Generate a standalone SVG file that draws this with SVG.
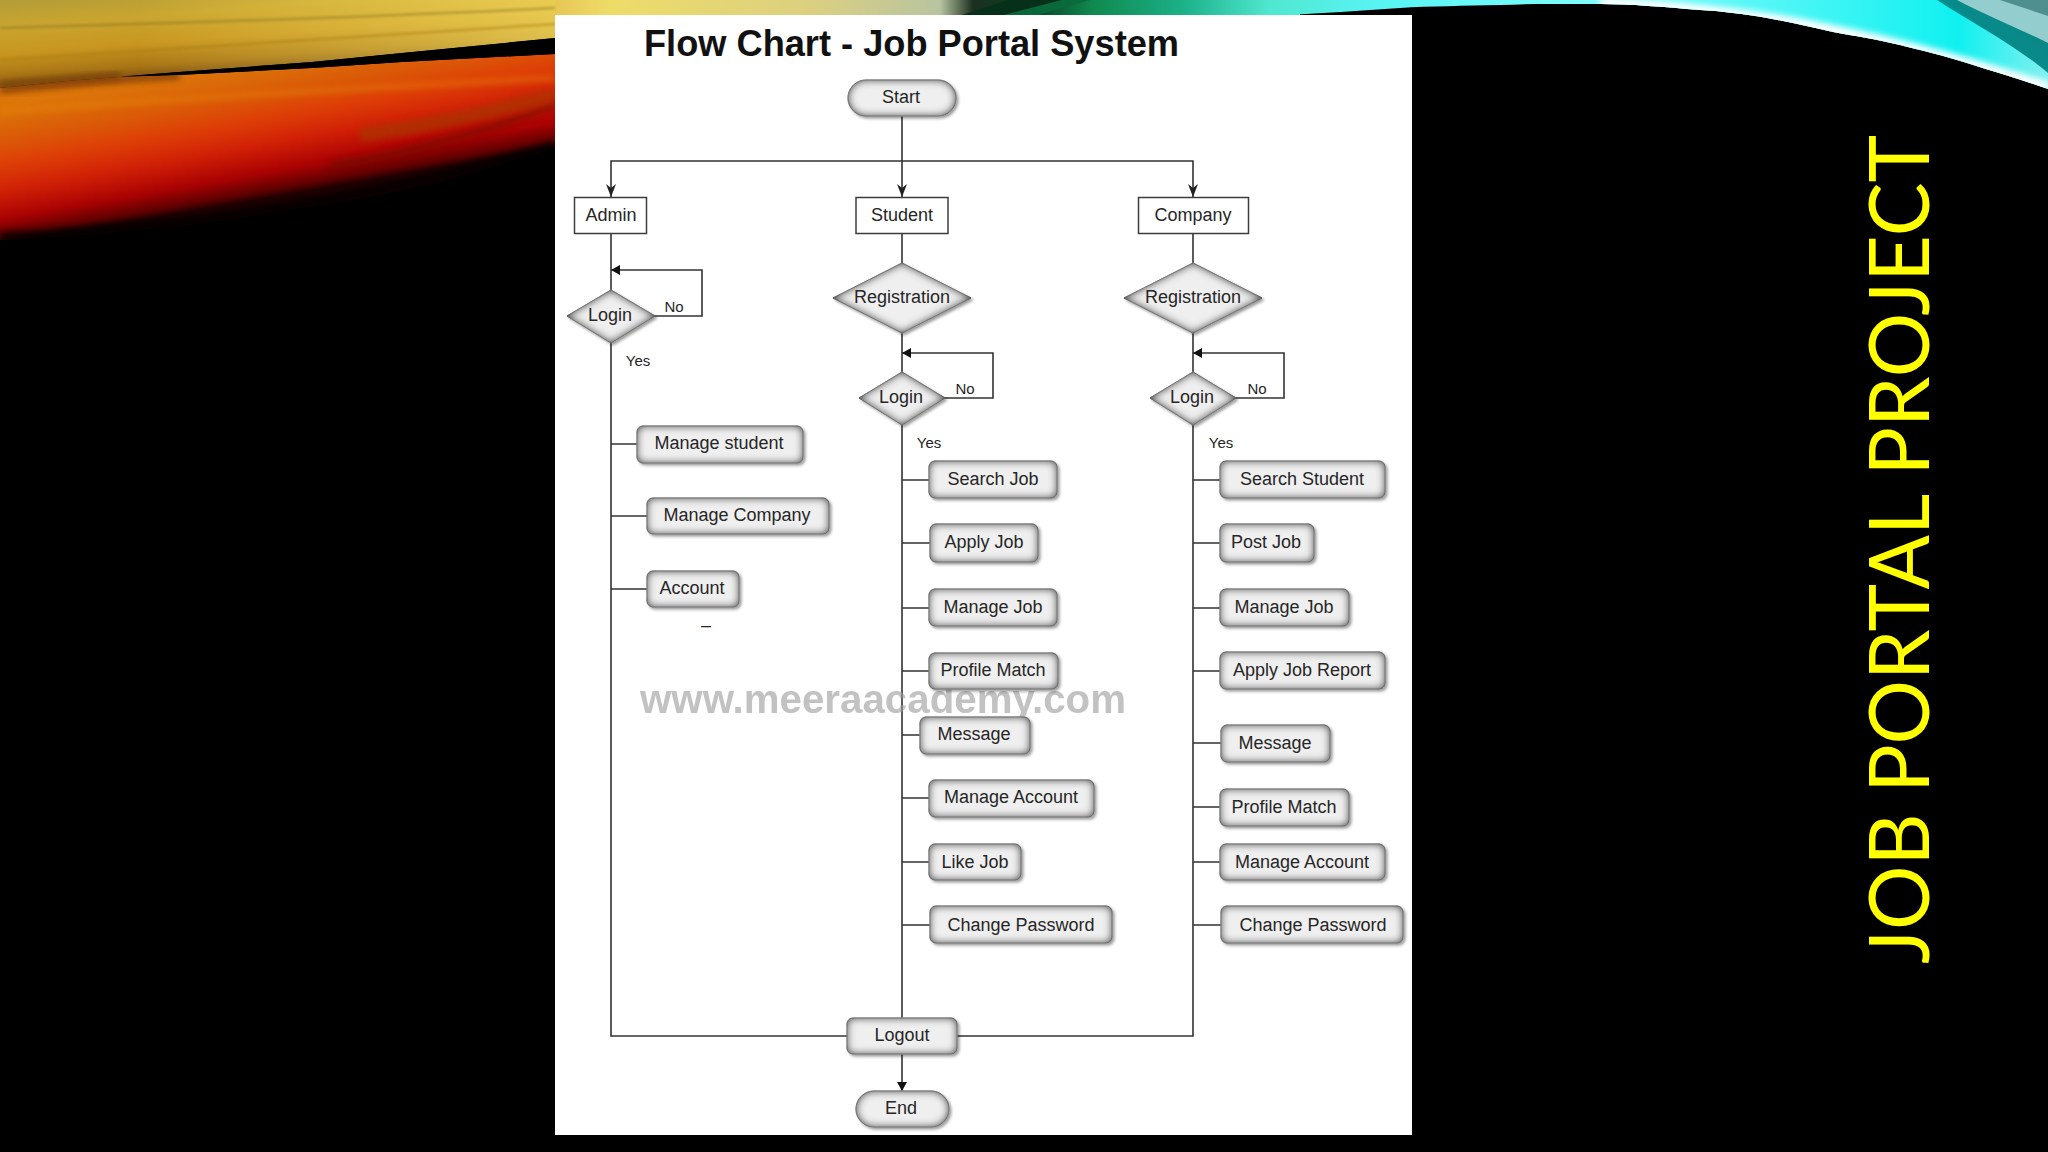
<svg xmlns="http://www.w3.org/2000/svg" width="2048" height="1152" viewBox="0 0 2048 1152">
<style>
text{font-family:"Liberation Sans",Arial,sans-serif;fill:#262626}
.l{font-size:18px;text-anchor:middle}
.s{font-size:15px;text-anchor:middle}
.n{fill:#efefef;stroke:#a8a8a8;stroke-width:1;filter:url(#bevel)}
.r{fill:#fff;stroke:#3c3c3c;stroke-width:1.5}
.c{fill:none;stroke:#333;stroke-width:1.6}
</style>
<defs>
<filter id="bevel" x="-30%" y="-50%" width="160%" height="200%">
<feFlood flood-color="#555" result="f"/>
<feComposite in="f" in2="SourceAlpha" operator="out" result="inv"/>
<feGaussianBlur in="inv" stdDeviation="4.5" result="b"/>
<feComposite in="b" in2="SourceAlpha" operator="in" result="inner"/>
<feOffset in="SourceAlpha" dx="2" dy="2" result="o"/>
<feGaussianBlur in="o" stdDeviation="1.6" result="ob"/>
<feFlood flood-color="#000" flood-opacity=".4"/>
<feComposite in2="ob" operator="in" result="shadow"/>
<feMerge><feMergeNode in="shadow"/><feMergeNode in="SourceGraphic"/><feMergeNode in="inner"/><feMergeNode in="inner"/></feMerge>
</filter>
<filter id="soft" x="-5%" y="-50%" width="110%" height="200%"><feGaussianBlur stdDeviation="3"/></filter>
<filter id="soft2" x="-5%" y="-50%" width="110%" height="200%"><feGaussianBlur stdDeviation="1.2"/></filter>
<marker id="open" markerUnits="userSpaceOnUse" markerWidth="14" markerHeight="14" refX="13" refY="6" orient="auto"><path d="M0 1 L13 6 L0 11 L4 6Z" fill="#222"/></marker>
<marker id="solid" markerUnits="userSpaceOnUse" markerWidth="12" markerHeight="12" refX="9" refY="5" orient="auto"><path d="M0 0 L9 5 L0 10Z" fill="#111"/></marker>
<linearGradient id="up" gradientUnits="userSpaceOnUse" x1="0" y1="0" x2="7" y2="90">
<stop offset="0" stop-color="#b39c38"/><stop offset=".3" stop-color="#c9a52f"/><stop offset=".6" stop-color="#c89620"/><stop offset=".85" stop-color="#a87415"/><stop offset="1" stop-color="#7a4a10"/>
</linearGradient>
<linearGradient id="upx" x1="0" x2="1" y1="0" y2="0">
<stop offset=".25" stop-color="#f4e060" stop-opacity="0"/><stop offset="1" stop-color="#f4dc60" stop-opacity=".75"/>
</linearGradient>
<linearGradient id="low" gradientUnits="userSpaceOnUse" x1="0" y1="85" x2="27" y2="240">
<stop offset="0" stop-color="#b86010"/><stop offset=".12" stop-color="#d47010"/><stop offset=".28" stop-color="#d84a08"/><stop offset=".48" stop-color="#e02805"/><stop offset=".66" stop-color="#cf1006"/><stop offset=".84" stop-color="#a80202"/><stop offset=".95" stop-color="#600000"/><stop offset="1" stop-color="#200000"/>
</linearGradient>
<linearGradient id="lowx" gradientUnits="userSpaceOnUse" x1="250" y1="60" x2="270" y2="170">
<stop offset="0" stop-color="#e07808" stop-opacity=".75"/><stop offset=".5" stop-color="#d87008" stop-opacity=".35"/><stop offset="1" stop-color="#d87008" stop-opacity="0"/>
</linearGradient>
<linearGradient id="top" gradientUnits="userSpaceOnUse" x1="500" y1="0" x2="1600" y2="0">
<stop offset="0" stop-color="#e2b040"/><stop offset=".1" stop-color="#eedc68"/><stop offset=".28" stop-color="#dcd080"/><stop offset=".4" stop-color="#b8c4a0"/><stop offset=".43" stop-color="#1c3020"/><stop offset=".48" stop-color="#083c20"/><stop offset=".54" stop-color="#108a50"/><stop offset=".62" stop-color="#1cb088"/><stop offset=".7" stop-color="#50e8d0"/><stop offset=".8" stop-color="#58f4f4"/><stop offset="1" stop-color="#80fcfc"/>
</linearGradient>
<linearGradient id="cy" gradientUnits="userSpaceOnUse" x1="1600" y1="0" x2="2048" y2="0">
<stop offset="0" stop-color="#80fcfc"/><stop offset=".4" stop-color="#50f6f6"/><stop offset=".8" stop-color="#10f0f0"/><stop offset="1" stop-color="#80f0f0"/>
</linearGradient>
<linearGradient id="tb" gradientUnits="userSpaceOnUse" x1="2005" y1="20" x2="1985" y2="50">
<stop offset="0" stop-color="#0a8888"/><stop offset=".5" stop-color="#088a8a"/><stop offset="1" stop-color="#12d8d8"/>
</linearGradient>
<clipPath id="rc"><path d="M1000 0H2048V89C2020 79 1995 72 1967 63C1945 56 1920 50 1900 45C1875 39 1855 36 1833 32C1810 27 1790 22 1767 18C1745 14 1720 11 1700 10C1665 7 1630 4 1600 4C1565 3 1530 4 1500 5C1465 6 1430 6 1400 8C1360 11 1320 13 1290 15H1000Z"/></clipPath>
<clipPath id="lc"><path d="M0 88L67 81L120 77L179 75L312 68L402 62L555 54V147C535 155 515 160 491 167C460 176 430 184 402 190C360 199 310 206 268 213C220 221 180 226 134 230C90 234 40 238 0 240Z"/></clipPath>
</defs>
<rect width="2048" height="1152" fill="#000"/>
<g id="background">
<rect x="500" width="800" height="16" fill="url(#top)"/>
<path d="M0 0H555V38L402 53L312 62L179 72L120 77L67 81L0 88Z" fill="url(#up)"/>
<path d="M0 0H555V38L402 53L312 62L179 72L120 77L67 81L0 88Z" fill="url(#upx)"/>
<path d="M0 88L67 81L120 77L179 75L312 68L402 62L555 54V147C535 155 515 160 491 167C460 176 430 184 402 190C360 199 310 206 268 213C220 221 180 226 134 230C90 234 40 238 0 240Z" fill="url(#low)"/>
<g clip-path="url(#lc)">
<path d="M0 88L179 75L312 68L402 62L555 54V147L0 240Z" fill="url(#lowx)"/>
<path d="M330 165C420 150 490 130 555 105" fill="none" stroke="#601804" stroke-width="6" opacity=".55" filter="url(#soft)"/>
<path d="M360 135C430 125 500 110 555 95" fill="none" stroke="#a83806" stroke-width="14" opacity=".7" filter="url(#soft)"/>
<path d="M0 112C150 100 300 92 555 78" fill="none" stroke="#e88a10" stroke-width="5" opacity=".5" filter="url(#soft)"/>
<path d="M0 238C150 232 350 205 555 147" fill="none" stroke="#000" stroke-width="12" opacity=".8" filter="url(#soft)"/>
<path d="M0 90L120 80L180 76" fill="none" stroke="#6a3008" stroke-width="6" opacity=".8" filter="url(#soft)"/>
</g>
<path d="M0 28C150 24 350 18 555 8" fill="none" stroke="#7a6a20" stroke-width="3" opacity=".35" filter="url(#soft2)"/>
<path d="M0 60C150 52 350 36 555 24" fill="none" stroke="#a87c10" stroke-width="3" opacity=".4" filter="url(#soft2)"/>
<path d="M0 84L120 75" fill="none" stroke="#6a3008" stroke-width="5" opacity=".7" filter="url(#soft)"/>
<path d="M120 76.500L179 72L312 62L402 53L555 38V54L402 62L312 68L179 75Z" fill="#000"/>
<path d="M1000 0H1700V4H1300L1290 15H1000Z" fill="url(#top)"/>
<path d="M1290 0H2048V89C2020 79 1995 72 1967 63C1945 56 1920 50 1900 45C1875 39 1855 36 1833 32C1810 27 1790 22 1767 18C1745 14 1720 11 1700 10C1665 7 1630 4 1600 4C1565 3 1530 4 1500 5C1465 6 1430 6 1400 8C1360 11 1320 13 1290 15Z" fill="url(#top)"/>
<path d="M1600 0H2048V89C2020 79 1995 72 1967 63C1945 56 1920 50 1900 45C1875 39 1855 36 1833 32C1810 27 1790 22 1767 18C1745 14 1720 11 1700 10C1665 7 1630 4 1600 4Z" fill="url(#cy)"/>
<g clip-path="url(#rc)">
<path d="M2048 89C1967 63 1900 45 1833 32C1767 18 1700 10 1600 4" fill="none" stroke="#fff" stroke-width="14" filter="url(#soft)"/>
<path d="M1937 0H2048V73C2015 45 1975 25 1937 0Z" fill="url(#tb)"/>
<path d="M1957 0H2048V43C2018 28 1985 15 1957 0Z" fill="#94cdcd"/>
<path d="M2000 0H2048V16C2030 10 2015 5 2000 0Z" fill="#4f8f8f"/>
</g>
<path d="M959 16L1008 0H1062L1000 16Z" fill="#06301a"/>
<path d="M1000 16L1062 0H1090L1035 16Z" fill="#0a6a3c" opacity=".9"/>
</g>
<rect id="panel" x="555" y="15" width="857" height="1120" fill="#fff"/>
<text id="title" x="644" y="56" font-size="36" font-weight="700" textLength="535" lengthAdjust="spacingAndGlyphs" style="fill:#111">Flow Chart - Job Portal System</text>
<g id="connectors">
<path class="c" d="M902 116V197" marker-end="url(#open)"/>
<path class="c" d="M902 161H611V197" marker-end="url(#open)"/>
<path class="c" d="M902 161H1193V197" marker-end="url(#open)"/>
<path class="c" d="M611 234V290M611 343V1036H847"/>
<path class="c" d="M655 316H702V270H611" marker-end="url(#solid)"/>
<path class="c" d="M902 234V263M902 333V372M902 425V1018"/>
<path class="c" d="M945 398H993V353H902" marker-end="url(#solid)"/>
<path class="c" d="M1193 234V263M1193 333V372M1193 425V1036H957"/>
<path class="c" d="M1236 398H1284V353H1193" marker-end="url(#solid)"/>
<path class="c" d="M902 1054V1091" marker-end="url(#solid)"/>
<path class="c" d="M611 444H637M611 516H647M611 589H647"/>
<path class="c" d="M902 480H929M902 543H930M902 608H929M902 671H929M902 735H920M902 798H929M902 862H929M902 925H930"/>
<path class="c" d="M1193 480H1220M1193 543H1220M1193 608H1220M1193 671H1220M1193 743H1221M1193 807H1220M1193 862H1220M1193 925H1221"/>
</g>
<text id="watermark" x="883" y="713" font-size="40" font-weight="700" text-anchor="middle" textLength="486" lengthAdjust="spacingAndGlyphs" style="fill:#9a9a9a" opacity=".6">www.meeraacademy.com</text>
<g id="start"><rect class="n" x="848" y="80" width="108" height="36" rx="18"/><text class="l" x="901" y="103">Start</text></g>
<g id="admin"><rect class="r" x="574.500" y="197.500" width="72" height="36"/><text class="l" x="611" y="221">Admin</text></g>
<g id="student"><rect class="r" x="856" y="197.500" width="92" height="36"/><text class="l" x="902" y="221">Student</text></g>
<g id="company"><rect class="r" x="1138.500" y="197.500" width="110" height="36"/><text class="l" x="1193" y="221">Company</text></g>
<g id="login-admin"><polygon class="n" points="611,290 655,316 611,343 567,316"/><text class="l" x="610" y="321">Login</text></g>
<g id="reg-student"><polygon class="n" points="902,263 971,298 902,333 833,298"/><text class="l" x="902" y="303">Registration</text></g>
<g id="login-student"><polygon class="n" points="902,372 945,398 902,425 859,398"/><text class="l" x="901" y="403">Login</text></g>
<g id="reg-company"><polygon class="n" points="1193,263 1262,298 1193,333 1124,298"/><text class="l" x="1193" y="303">Registration</text></g>
<g id="login-company"><polygon class="n" points="1193,372 1236,398 1193,425 1150,398"/><text class="l" x="1192" y="403">Login</text></g>
<g id="no-yes">
<text class="s" x="674" y="312">No</text><text class="s" x="638" y="366">Yes</text>
<text class="s" x="965" y="394">No</text><text class="s" x="929" y="448">Yes</text>
<text class="s" x="1257" y="394">No</text><text class="s" x="1221" y="448">Yes</text>
</g>
<g id="manage-student"><rect class="n" x="637" y="426" width="166" height="37" rx="6"/><text class="l" x="719" y="449">Manage student</text></g>
<g id="manage-company"><rect class="n" x="647" y="498" width="182" height="36" rx="6"/><text class="l" x="737" y="521">Manage Company</text></g>
<g id="account"><rect class="n" x="647" y="571" width="92" height="36" rx="6"/><text class="l" x="692" y="594">Account</text></g>
<text id="dash" class="l" x="706" y="631">–</text>
<g id="s-search"><rect class="n" x="929" y="461" width="128" height="37" rx="6"/><text class="l" x="993" y="485">Search Job</text></g>
<g id="s-apply"><rect class="n" x="930" y="524" width="108" height="38" rx="6"/><text class="l" x="984" y="548">Apply Job</text></g>
<g id="s-manage"><rect class="n" x="929" y="589" width="128" height="37" rx="6"/><text class="l" x="993" y="613">Manage Job</text></g>
<g id="s-profile"><rect class="n" x="929" y="653" width="129" height="36" rx="6"/><text class="l" x="993" y="676">Profile Match</text></g>
<g id="s-message"><rect class="n" x="920" y="717" width="110" height="37" rx="6"/><text class="l" x="974" y="740">Message</text></g>
<g id="s-account"><rect class="n" x="929" y="780" width="165" height="37" rx="6"/><text class="l" x="1011" y="803">Manage Account</text></g>
<g id="s-like"><rect class="n" x="929" y="844" width="92" height="36" rx="6"/><text class="l" x="975" y="868">Like Job</text></g>
<g id="s-password"><rect class="n" x="930" y="906" width="182" height="37" rx="6"/><text class="l" x="1021" y="931">Change Password</text></g>
<g id="c-search"><rect class="n" x="1220" y="461" width="165" height="37" rx="6"/><text class="l" x="1302" y="485">Search Student</text></g>
<g id="c-post"><rect class="n" x="1220" y="524" width="94" height="38" rx="6"/><text class="l" x="1266" y="548">Post Job</text></g>
<g id="c-manage"><rect class="n" x="1220" y="589" width="129" height="37" rx="6"/><text class="l" x="1284" y="613">Manage Job</text></g>
<g id="c-report"><rect class="n" x="1220" y="652" width="165" height="37" rx="6"/><text class="l" x="1302" y="676">Apply Job Report</text></g>
<g id="c-message"><rect class="n" x="1221" y="725" width="109" height="37" rx="6"/><text class="l" x="1275" y="749">Message</text></g>
<g id="c-profile"><rect class="n" x="1220" y="789" width="129" height="37" rx="6"/><text class="l" x="1284" y="813">Profile Match</text></g>
<g id="c-account"><rect class="n" x="1220" y="844" width="165" height="36" rx="6"/><text class="l" x="1302" y="868">Manage Account</text></g>
<g id="c-password"><rect class="n" x="1221" y="906" width="182" height="37" rx="6"/><text class="l" x="1313" y="931">Change Password</text></g>
<g id="logout"><rect class="n" x="847" y="1018" width="110" height="36" rx="6"/><text class="l" x="902" y="1041">Logout</text></g>
<g id="end"><rect class="n" x="856" y="1091" width="93" height="36" rx="18"/><text class="l" x="901" y="1114">End</text></g>
<text id="side-title" transform="translate(1929 964) rotate(-90)" font-size="83" textLength="829" lengthAdjust="spacingAndGlyphs" style="font-family:Lato,'Open Sans',sans-serif;fill:#ffff00">JOB PORTAL PROJECT</text>
</svg>
